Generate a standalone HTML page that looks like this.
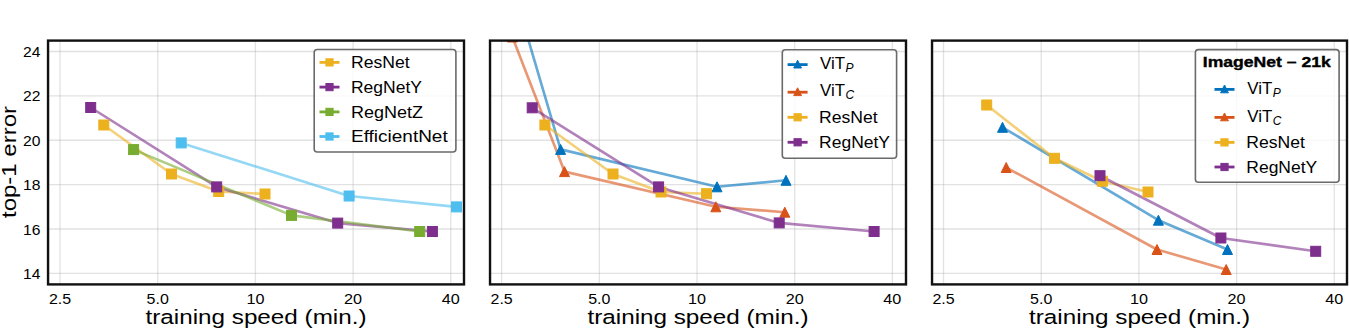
<!DOCTYPE html>
<html><head><meta charset="utf-8"><title>chart</title>
<style>html,body{margin:0;padding:0;background:#fff;width:1349px;height:329px;overflow:hidden}</style>
</head><body>
<svg width="1349" height="329" viewBox="0 0 1349 329" style="display:block">
<rect width="100%" height="100%" fill="#fff"/>
<defs>
<clipPath id="c0"><rect x="48.05" y="40.6" width="415.95" height="243.79999999999998"/></clipPath>
<clipPath id="c1"><rect x="490.03" y="40.6" width="415.97" height="243.79999999999998"/></clipPath>
<clipPath id="c2"><rect x="932.04" y="40.6" width="414.96000000000004" height="243.79999999999998"/></clipPath>
</defs>
<g font-family='"Liberation Sans", sans-serif' fill="#000" stroke="none">
<g stroke="#b0b0b0" stroke-opacity="0.36" stroke-width="1.3" fill="none"><path d="M60.03,40.6V284.4"/><path d="M157.72,40.6V284.4"/><path d="M255.41,40.6V284.4"/><path d="M353.10,40.6V284.4"/><path d="M450.79,40.6V284.4"/><path d="M48.05,273.40H464.0"/><path d="M48.05,229.02H464.0"/><path d="M48.05,184.64H464.0"/><path d="M48.05,140.26H464.0"/><path d="M48.05,95.88H464.0"/><path d="M48.05,51.50H464.0"/></g>
<text x="60.03" y="303.6" font-size="15" text-anchor="middle" font-weight="normal" font-style="normal" textLength="22.2" lengthAdjust="spacingAndGlyphs" >2.5</text>
<text x="157.72" y="303.6" font-size="15" text-anchor="middle" font-weight="normal" font-style="normal" textLength="22.2" lengthAdjust="spacingAndGlyphs" >5.0</text>
<text x="255.41" y="303.6" font-size="15" text-anchor="middle" font-weight="normal" font-style="normal" textLength="18.0" lengthAdjust="spacingAndGlyphs" >10</text>
<text x="353.10" y="303.6" font-size="15" text-anchor="middle" font-weight="normal" font-style="normal" textLength="18.0" lengthAdjust="spacingAndGlyphs" >20</text>
<text x="450.79" y="303.6" font-size="15" text-anchor="middle" font-weight="normal" font-style="normal" textLength="18.0" lengthAdjust="spacingAndGlyphs" >40</text>
<text x="256.02" y="324.3" font-size="20.5" text-anchor="middle" font-weight="normal" font-style="normal" textLength="221" lengthAdjust="spacingAndGlyphs" >training speed (min.)</text>
<g stroke="#b0b0b0" stroke-opacity="0.36" stroke-width="1.3" fill="none"><path d="M501.63,40.6V284.4"/><path d="M599.32,40.6V284.4"/><path d="M697.01,40.6V284.4"/><path d="M794.70,40.6V284.4"/><path d="M892.39,40.6V284.4"/><path d="M490.03,273.40H906.0"/><path d="M490.03,229.02H906.0"/><path d="M490.03,184.64H906.0"/><path d="M490.03,140.26H906.0"/><path d="M490.03,95.88H906.0"/><path d="M490.03,51.50H906.0"/></g>
<text x="501.63" y="303.6" font-size="15" text-anchor="middle" font-weight="normal" font-style="normal" textLength="22.2" lengthAdjust="spacingAndGlyphs" >2.5</text>
<text x="599.32" y="303.6" font-size="15" text-anchor="middle" font-weight="normal" font-style="normal" textLength="22.2" lengthAdjust="spacingAndGlyphs" >5.0</text>
<text x="697.01" y="303.6" font-size="15" text-anchor="middle" font-weight="normal" font-style="normal" textLength="18.0" lengthAdjust="spacingAndGlyphs" >10</text>
<text x="794.70" y="303.6" font-size="15" text-anchor="middle" font-weight="normal" font-style="normal" textLength="18.0" lengthAdjust="spacingAndGlyphs" >20</text>
<text x="892.39" y="303.6" font-size="15" text-anchor="middle" font-weight="normal" font-style="normal" textLength="18.0" lengthAdjust="spacingAndGlyphs" >40</text>
<text x="698.01" y="324.3" font-size="20.5" text-anchor="middle" font-weight="normal" font-style="normal" textLength="221" lengthAdjust="spacingAndGlyphs" >training speed (min.)</text>
<g stroke="#b0b0b0" stroke-opacity="0.36" stroke-width="1.3" fill="none"><path d="M943.53,40.6V284.4"/><path d="M1041.22,40.6V284.4"/><path d="M1138.91,40.6V284.4"/><path d="M1236.60,40.6V284.4"/><path d="M1334.29,40.6V284.4"/><path d="M932.04,273.40H1347.0"/><path d="M932.04,229.02H1347.0"/><path d="M932.04,184.64H1347.0"/><path d="M932.04,140.26H1347.0"/><path d="M932.04,95.88H1347.0"/><path d="M932.04,51.50H1347.0"/></g>
<text x="943.53" y="303.6" font-size="15" text-anchor="middle" font-weight="normal" font-style="normal" textLength="22.2" lengthAdjust="spacingAndGlyphs" >2.5</text>
<text x="1041.22" y="303.6" font-size="15" text-anchor="middle" font-weight="normal" font-style="normal" textLength="22.2" lengthAdjust="spacingAndGlyphs" >5.0</text>
<text x="1138.91" y="303.6" font-size="15" text-anchor="middle" font-weight="normal" font-style="normal" textLength="18.0" lengthAdjust="spacingAndGlyphs" >10</text>
<text x="1236.60" y="303.6" font-size="15" text-anchor="middle" font-weight="normal" font-style="normal" textLength="18.0" lengthAdjust="spacingAndGlyphs" >20</text>
<text x="1334.29" y="303.6" font-size="15" text-anchor="middle" font-weight="normal" font-style="normal" textLength="18.0" lengthAdjust="spacingAndGlyphs" >40</text>
<text x="1139.52" y="324.3" font-size="20.5" text-anchor="middle" font-weight="normal" font-style="normal" textLength="221" lengthAdjust="spacingAndGlyphs" >training speed (min.)</text>
<text x="40.4" y="279.00" font-size="15" text-anchor="end" font-weight="normal" font-style="normal" textLength="17.4" lengthAdjust="spacingAndGlyphs" >14</text>
<text x="40.4" y="234.62" font-size="15" text-anchor="end" font-weight="normal" font-style="normal" textLength="17.4" lengthAdjust="spacingAndGlyphs" >16</text>
<text x="40.4" y="190.24" font-size="15" text-anchor="end" font-weight="normal" font-style="normal" textLength="17.4" lengthAdjust="spacingAndGlyphs" >18</text>
<text x="40.4" y="145.86" font-size="15" text-anchor="end" font-weight="normal" font-style="normal" textLength="17.4" lengthAdjust="spacingAndGlyphs" >20</text>
<text x="40.4" y="101.48" font-size="15" text-anchor="end" font-weight="normal" font-style="normal" textLength="17.4" lengthAdjust="spacingAndGlyphs" >22</text>
<text x="40.4" y="57.10" font-size="15" text-anchor="end" font-weight="normal" font-style="normal" textLength="17.4" lengthAdjust="spacingAndGlyphs" >24</text>
<text x="0" y="0" font-size="20.5" text-anchor="middle" font-weight="normal" font-style="normal" textLength="112" lengthAdjust="spacingAndGlyphs" transform="translate(15.6,162) rotate(-90)">top-1 error</text>
<g clip-path="url(#c0)"><path d="M103.80,125.00 L171.50,174.00 L218.70,191.50 L265.00,194.00" fill="none" stroke="#EDB120" stroke-opacity="0.6" stroke-width="2.65" stroke-linejoin="round" stroke-linecap="butt"/><path d="M90.70,107.50 L216.70,186.90 L337.70,223.10 L432.40,231.50" fill="none" stroke="#7E2F8E" stroke-opacity="0.6" stroke-width="2.65" stroke-linejoin="round" stroke-linecap="butt"/><path d="M133.60,149.60 L291.50,215.40 L419.70,231.50" fill="none" stroke="#77AC30" stroke-opacity="0.6" stroke-width="2.65" stroke-linejoin="round" stroke-linecap="butt"/><path d="M181.20,142.90 L349.10,196.00 L456.50,206.90" fill="none" stroke="#4DBEEE" stroke-opacity="0.6" stroke-width="2.65" stroke-linejoin="round" stroke-linecap="butt"/><rect x="98.80" y="120.00" width="10" height="10" fill="#EDB120" stroke="#EDB120" stroke-width="1"/><rect x="166.50" y="169.00" width="10" height="10" fill="#EDB120" stroke="#EDB120" stroke-width="1"/><rect x="213.70" y="186.50" width="10" height="10" fill="#EDB120" stroke="#EDB120" stroke-width="1"/><rect x="260.00" y="189.00" width="10" height="10" fill="#EDB120" stroke="#EDB120" stroke-width="1"/><rect x="85.70" y="102.50" width="10" height="10" fill="#7E2F8E" stroke="#7E2F8E" stroke-width="1"/><rect x="211.70" y="181.90" width="10" height="10" fill="#7E2F8E" stroke="#7E2F8E" stroke-width="1"/><rect x="332.70" y="218.10" width="10" height="10" fill="#7E2F8E" stroke="#7E2F8E" stroke-width="1"/><rect x="427.40" y="226.50" width="10" height="10" fill="#7E2F8E" stroke="#7E2F8E" stroke-width="1"/><rect x="128.60" y="144.60" width="10" height="10" fill="#77AC30" stroke="#77AC30" stroke-width="1"/><rect x="286.50" y="210.40" width="10" height="10" fill="#77AC30" stroke="#77AC30" stroke-width="1"/><rect x="414.70" y="226.50" width="10" height="10" fill="#77AC30" stroke="#77AC30" stroke-width="1"/><rect x="176.20" y="137.90" width="10" height="10" fill="#4DBEEE" stroke="#4DBEEE" stroke-width="1"/><rect x="344.10" y="191.00" width="10" height="10" fill="#4DBEEE" stroke="#4DBEEE" stroke-width="1"/><rect x="451.50" y="201.90" width="10" height="10" fill="#4DBEEE" stroke="#4DBEEE" stroke-width="1"/></g>
<g clip-path="url(#c1)"><path d="M487.20,-100.00 L560.60,149.40 L717.00,186.80 L786.00,180.30" fill="none" stroke="#0072BD" stroke-opacity="0.6" stroke-width="2.65" stroke-linejoin="round" stroke-linecap="butt"/><path d="M512.40,37.00 L564.50,171.60 L715.80,206.80 L784.80,212.20" fill="none" stroke="#D95319" stroke-opacity="0.6" stroke-width="2.65" stroke-linejoin="round" stroke-linecap="butt"/><path d="M544.90,125.00 L613.00,174.00 L661.00,192.00 L706.50,193.70" fill="none" stroke="#EDB120" stroke-opacity="0.6" stroke-width="2.65" stroke-linejoin="round" stroke-linecap="butt"/><path d="M532.20,107.80 L658.60,186.90 L779.20,222.90 L874.10,231.50" fill="none" stroke="#7E2F8E" stroke-opacity="0.6" stroke-width="2.65" stroke-linejoin="round" stroke-linecap="butt"/><path d="M487.20,-105.00L492.20,-95.00L482.20,-95.00Z" fill="#0072BD" stroke="#0072BD" stroke-width="1" stroke-linejoin="miter"/><path d="M560.60,144.40L565.60,154.40L555.60,154.40Z" fill="#0072BD" stroke="#0072BD" stroke-width="1" stroke-linejoin="miter"/><path d="M717.00,181.80L722.00,191.80L712.00,191.80Z" fill="#0072BD" stroke="#0072BD" stroke-width="1" stroke-linejoin="miter"/><path d="M786.00,175.30L791.00,185.30L781.00,185.30Z" fill="#0072BD" stroke="#0072BD" stroke-width="1" stroke-linejoin="miter"/><path d="M512.40,32.00L517.40,42.00L507.40,42.00Z" fill="#D95319" stroke="#D95319" stroke-width="1" stroke-linejoin="miter"/><path d="M564.50,166.60L569.50,176.60L559.50,176.60Z" fill="#D95319" stroke="#D95319" stroke-width="1" stroke-linejoin="miter"/><path d="M715.80,201.80L720.80,211.80L710.80,211.80Z" fill="#D95319" stroke="#D95319" stroke-width="1" stroke-linejoin="miter"/><path d="M784.80,207.20L789.80,217.20L779.80,217.20Z" fill="#D95319" stroke="#D95319" stroke-width="1" stroke-linejoin="miter"/><rect x="539.90" y="120.00" width="10" height="10" fill="#EDB120" stroke="#EDB120" stroke-width="1"/><rect x="608.00" y="169.00" width="10" height="10" fill="#EDB120" stroke="#EDB120" stroke-width="1"/><rect x="656.00" y="187.00" width="10" height="10" fill="#EDB120" stroke="#EDB120" stroke-width="1"/><rect x="701.50" y="188.70" width="10" height="10" fill="#EDB120" stroke="#EDB120" stroke-width="1"/><rect x="527.20" y="102.80" width="10" height="10" fill="#7E2F8E" stroke="#7E2F8E" stroke-width="1"/><rect x="653.60" y="181.90" width="10" height="10" fill="#7E2F8E" stroke="#7E2F8E" stroke-width="1"/><rect x="774.20" y="217.90" width="10" height="10" fill="#7E2F8E" stroke="#7E2F8E" stroke-width="1"/><rect x="869.10" y="226.50" width="10" height="10" fill="#7E2F8E" stroke="#7E2F8E" stroke-width="1"/></g>
<g clip-path="url(#c2)"><path d="M1002.50,127.30 L1158.40,220.20 L1227.50,249.50" fill="none" stroke="#0072BD" stroke-opacity="0.6" stroke-width="2.65" stroke-linejoin="round" stroke-linecap="butt"/><path d="M1006.20,167.50 L1157.00,249.50 L1226.20,269.50" fill="none" stroke="#D95319" stroke-opacity="0.6" stroke-width="2.65" stroke-linejoin="round" stroke-linecap="butt"/><path d="M986.70,105.00 L1054.50,158.30 L1102.30,181.20 L1148.00,192.00" fill="none" stroke="#EDB120" stroke-opacity="0.6" stroke-width="2.65" stroke-linejoin="round" stroke-linecap="butt"/><path d="M1100.00,175.70 L1220.90,238.00 L1315.70,251.30" fill="none" stroke="#7E2F8E" stroke-opacity="0.6" stroke-width="2.65" stroke-linejoin="round" stroke-linecap="butt"/><path d="M1002.50,122.30L1007.50,132.30L997.50,132.30Z" fill="#0072BD" stroke="#0072BD" stroke-width="1" stroke-linejoin="miter"/><path d="M1158.40,215.20L1163.40,225.20L1153.40,225.20Z" fill="#0072BD" stroke="#0072BD" stroke-width="1" stroke-linejoin="miter"/><path d="M1227.50,244.50L1232.50,254.50L1222.50,254.50Z" fill="#0072BD" stroke="#0072BD" stroke-width="1" stroke-linejoin="miter"/><path d="M1006.20,162.50L1011.20,172.50L1001.20,172.50Z" fill="#D95319" stroke="#D95319" stroke-width="1" stroke-linejoin="miter"/><path d="M1157.00,244.50L1162.00,254.50L1152.00,254.50Z" fill="#D95319" stroke="#D95319" stroke-width="1" stroke-linejoin="miter"/><path d="M1226.20,264.50L1231.20,274.50L1221.20,274.50Z" fill="#D95319" stroke="#D95319" stroke-width="1" stroke-linejoin="miter"/><rect x="981.70" y="100.00" width="10" height="10" fill="#EDB120" stroke="#EDB120" stroke-width="1"/><rect x="1049.50" y="153.30" width="10" height="10" fill="#EDB120" stroke="#EDB120" stroke-width="1"/><rect x="1097.30" y="176.20" width="10" height="10" fill="#EDB120" stroke="#EDB120" stroke-width="1"/><rect x="1143.00" y="187.00" width="10" height="10" fill="#EDB120" stroke="#EDB120" stroke-width="1"/><rect x="1095.00" y="170.70" width="10" height="10" fill="#7E2F8E" stroke="#7E2F8E" stroke-width="1"/><rect x="1215.90" y="233.00" width="10" height="10" fill="#7E2F8E" stroke="#7E2F8E" stroke-width="1"/><rect x="1310.70" y="246.30" width="10" height="10" fill="#7E2F8E" stroke="#7E2F8E" stroke-width="1"/></g>
<rect x="48.05" y="40.6" width="415.95" height="243.80" fill="none" stroke="#111" stroke-width="2.4"/>
<rect x="490.03" y="40.6" width="415.97" height="243.80" fill="none" stroke="#111" stroke-width="2.4"/>
<rect x="932.04" y="40.6" width="414.96" height="243.80" fill="none" stroke="#111" stroke-width="2.4"/>
<rect x="314.2" y="49.5" width="141.70" height="102.50" rx="3" ry="3" fill="#fff" fill-opacity="0.8" stroke="#6a6a6a" stroke-width="1.6"/>
<path d="M319.50,62.4H339.50" stroke="#EDB120" stroke-width="2.8"/>
<rect x="325.90" y="58.80" width="7.2" height="7.2" fill="#EDB120" stroke="#EDB120" stroke-width="1"/>
<text x="351.00" y="68.20" font-size="16" text-anchor="start" font-weight="normal" font-style="normal" textLength="58.6" lengthAdjust="spacingAndGlyphs" >ResNet</text>
<path d="M319.50,87.1H339.50" stroke="#7E2F8E" stroke-width="2.8"/>
<rect x="325.90" y="83.50" width="7.2" height="7.2" fill="#7E2F8E" stroke="#7E2F8E" stroke-width="1"/>
<text x="351.00" y="92.90" font-size="16" text-anchor="start" font-weight="normal" font-style="normal" textLength="70.9" lengthAdjust="spacingAndGlyphs" >RegNetY</text>
<path d="M319.50,111.9H339.50" stroke="#77AC30" stroke-width="2.8"/>
<rect x="325.90" y="108.30" width="7.2" height="7.2" fill="#77AC30" stroke="#77AC30" stroke-width="1"/>
<text x="351.00" y="117.70" font-size="16" text-anchor="start" font-weight="normal" font-style="normal" textLength="72.0" lengthAdjust="spacingAndGlyphs" >RegNetZ</text>
<path d="M319.50,136.5H339.50" stroke="#4DBEEE" stroke-width="2.8"/>
<rect x="325.90" y="132.90" width="7.2" height="7.2" fill="#4DBEEE" stroke="#4DBEEE" stroke-width="1"/>
<text x="351.00" y="142.30" font-size="16" text-anchor="start" font-weight="normal" font-style="normal" textLength="96.7" lengthAdjust="spacingAndGlyphs" >EfficientNet</text>
<rect x="782.3" y="49.7" width="114.30" height="108.60" rx="3" ry="3" fill="#fff" fill-opacity="0.8" stroke="#6a6a6a" stroke-width="1.6"/>
<path d="M787.60,64.6H807.60" stroke="#0072BD" stroke-width="2.8"/>
<path d="M797.60,60.20L801.50,68.00L793.70,68.00Z" fill="#0072BD" stroke="#0072BD" stroke-width="1" stroke-linejoin="miter"/>
<text x="820.00" y="68.70" font-size="16" text-anchor="start" font-weight="normal" font-style="normal" textLength="25" lengthAdjust="spacingAndGlyphs" >ViT</text><text x="845.60" y="71.70" font-size="12" text-anchor="start" font-weight="normal" font-style="italic" >P</text>
<path d="M787.60,92.2H807.60" stroke="#D95319" stroke-width="2.8"/>
<path d="M797.60,87.80L801.50,95.60L793.70,95.60Z" fill="#D95319" stroke="#D95319" stroke-width="1" stroke-linejoin="miter"/>
<text x="820.00" y="96.30" font-size="16" text-anchor="start" font-weight="normal" font-style="normal" textLength="25" lengthAdjust="spacingAndGlyphs" >ViT</text><text x="845.60" y="99.30" font-size="12" text-anchor="start" font-weight="normal" font-style="italic" >C</text>
<path d="M787.60,117.3H807.60" stroke="#EDB120" stroke-width="2.8"/>
<rect x="794.00" y="113.70" width="7.2" height="7.2" fill="#EDB120" stroke="#EDB120" stroke-width="1"/>
<text x="819.10" y="123.10" font-size="16" text-anchor="start" font-weight="normal" font-style="normal" textLength="58.6" lengthAdjust="spacingAndGlyphs" >ResNet</text>
<path d="M787.60,142.3H807.60" stroke="#7E2F8E" stroke-width="2.8"/>
<rect x="794.00" y="138.70" width="7.2" height="7.2" fill="#7E2F8E" stroke="#7E2F8E" stroke-width="1"/>
<text x="819.10" y="148.10" font-size="16" text-anchor="start" font-weight="normal" font-style="normal" textLength="70.9" lengthAdjust="spacingAndGlyphs" >RegNetY</text>
<rect x="1195.4" y="49.6" width="143.70" height="132.60" rx="3" ry="3" fill="#fff" fill-opacity="0.8" stroke="#6a6a6a" stroke-width="1.6"/>
<path d="M1214.50,89.4H1234.50" stroke="#0072BD" stroke-width="2.8"/>
<path d="M1224.50,85.00L1228.40,92.80L1220.60,92.80Z" fill="#0072BD" stroke="#0072BD" stroke-width="1" stroke-linejoin="miter"/>
<text x="1247.20" y="93.50" font-size="16" text-anchor="start" font-weight="normal" font-style="normal" textLength="25" lengthAdjust="spacingAndGlyphs" >ViT</text><text x="1272.80" y="96.50" font-size="12" text-anchor="start" font-weight="normal" font-style="italic" >P</text>
<path d="M1214.50,117.4H1234.50" stroke="#D95319" stroke-width="2.8"/>
<path d="M1224.50,113.00L1228.40,120.80L1220.60,120.80Z" fill="#D95319" stroke="#D95319" stroke-width="1" stroke-linejoin="miter"/>
<text x="1247.20" y="121.50" font-size="16" text-anchor="start" font-weight="normal" font-style="normal" textLength="25" lengthAdjust="spacingAndGlyphs" >ViT</text><text x="1272.80" y="124.50" font-size="12" text-anchor="start" font-weight="normal" font-style="italic" >C</text>
<path d="M1214.50,142.4H1234.50" stroke="#EDB120" stroke-width="2.8"/>
<rect x="1220.90" y="138.80" width="7.2" height="7.2" fill="#EDB120" stroke="#EDB120" stroke-width="1"/>
<text x="1246.30" y="148.20" font-size="16" text-anchor="start" font-weight="normal" font-style="normal" textLength="58.6" lengthAdjust="spacingAndGlyphs" >ResNet</text>
<path d="M1214.50,167.0H1234.50" stroke="#7E2F8E" stroke-width="2.8"/>
<rect x="1220.90" y="163.40" width="7.2" height="7.2" fill="#7E2F8E" stroke="#7E2F8E" stroke-width="1"/>
<text x="1246.30" y="172.80" font-size="16" text-anchor="start" font-weight="normal" font-style="normal" textLength="70.9" lengthAdjust="spacingAndGlyphs" >RegNetY</text>
<text x="1202.8" y="67.2" font-size="14" text-anchor="start" font-weight="bold" font-style="normal" textLength="128" lengthAdjust="spacingAndGlyphs" stroke="#000" stroke-width="0.35">ImageNet – 21k</text>
</g></svg>
</body></html>
